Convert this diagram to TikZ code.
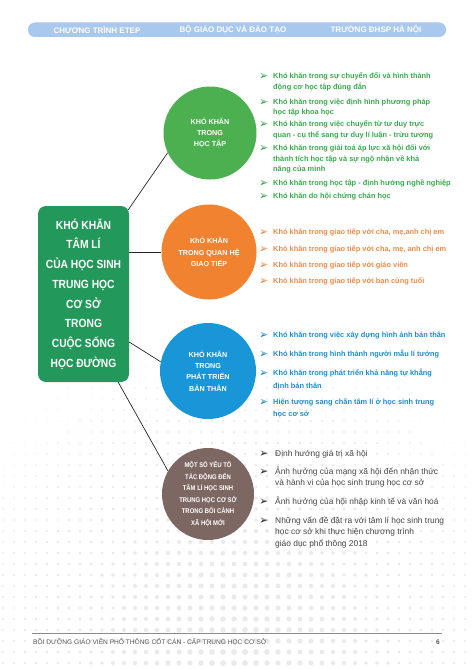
\documentclass[tikz,border=0pt]{standalone}
\usepackage{fontspec}
\setmainfont{Liberation Sans}
\newfontfamily\narrowfont[FakeStretch=0.87]{Liberation Sans}
\usetikzlibrary{calc}
\definecolor{hdr}{RGB}{168,200,238}
\definecolor{maing}{RGB}{34,152,90}
\definecolor{gc}{RGB}{76,176,80}
\definecolor{gt}{RGB}{58,168,78}
\definecolor{oc}{RGB}{240,130,48}
\definecolor{ot}{RGB}{232,140,72}
\definecolor{bc}{RGB}{25,150,215}
\definecolor{bt}{RGB}{30,140,200}
\definecolor{brc}{RGB}{125,103,98}
\definecolor{grt}{RGB}{70,70,70}
\definecolor{dotc}{RGB}{234,234,234}
\definecolor{foot}{RGB}{85,85,85}
\begin{document}
\begin{tikzpicture}[x=1pt,y=-1pt,
  circ/.style={circle,inner sep=0pt,text=white,align=center},
  ctext/.style={font=\bfseries\fontsize{7.2}{11.3}\selectfont},
  item/.style={anchor=base west,inner sep=0pt,font=\bfseries\fontsize{7.4}{9}\selectfont},
  gitem/.style={anchor=base west,inner sep=0pt,text=grt,font=\fontsize{8.4}{10}\selectfont},
  conn/.style={black!85,line width=0.7pt},
  bullet/.pic={\fill[#1!55] (-3.6,-2.7) -- (3.6,0) -- (-1.4,0) -- cycle;
               \fill[#1] (-3.6,2.7) -- (3.6,0) -- (-1.4,0) -- cycle;}]
\useasboundingbox (0,0) rectangle (474,669);
\fill[white] (0,0) rectangle (474,669);
% halftone background
\foreach \i in {0,...,43}{
  \foreach \j in {24,...,60}{
    \pgfmathsetmacro\xx{\i*11+3}
    \pgfmathsetmacro\yy{\j*11+3}
    \pgfmathsetmacro\dd{veclen(\xx-237,\yy-650)}
    \pgfmathsetmacro\rr{3.0-\dd/125}
    \ifdim\rr pt>0.3pt \fill[dotc] (\xx,\yy) circle[radius=\rr]; \fi
  }
}
% header
\fill[hdr,rounded corners=7pt] (28,22.5) rectangle (446,37);
\node[text=white,font=\bfseries\fontsize{8}{9}\selectfont] (h1) at (97,30) {CHƯƠNG TRÌNH ETEP};
\node[text=white,font=\bfseries\fontsize{8}{9}\selectfont] (h2) at (233,30) {BỘ GIÁO DỤC VÀ ĐÀO TẠO};
\node[text=white,font=\bfseries\fontsize{8}{9}\selectfont] (h3) at (376,30) {TRƯỜNG ĐHSP HÀ NỘI};
% footer
\draw[black!45,line width=0.8pt] (32,633) -- (442,633);
\node[anchor=base west,inner sep=0pt,text=foot,font=\fontsize{6.6}{8}\selectfont] (f1) at (33,644.5) {BỒI DƯỠNG GIÁO VIÊN PHỔ THÔNG CỐT CÁN - CẤP TRUNG HỌC CƠ SỞ};
\node[anchor=base,inner sep=0pt,text=foot,font=\bfseries\fontsize{6.6}{8}\selectfont] (f2) at (438,644.5) {6};
% main box
\node[fill=maing,rounded corners=8pt,minimum width=91pt,minimum height=176pt,inner sep=0pt,
      text=white,align=center,font=\narrowfont\bfseries\fontsize{11.8}{19.7}\selectfont] (main) at (83.5,294)
  {KHÓ KHĂN\\TÂM LÍ\\CỦA HỌC SINH\\TRUNG HỌC\\CƠ SỞ\\TRONG\\CUỘC SỐNG\\HỌC ĐƯỜNG};
% circles
\node[circ,ctext,fill=gc,minimum size=93pt] (c1) at (210,133) {KHÓ KHĂN\\TRONG\\HỌC TẬP};
\node[circ,ctext,fill=oc,minimum size=95pt] (c2) at (209,252) {KhÓ KHĂN\\TRONG QUAN HỆ\\GIAO TIẾP};
\node[circ,ctext,fill=bc,minimum size=96pt] (c3) at (208,371) {KHÓ KHĂN\\TRONG\\PHÁT TRIỂN\\BẢN THÂN};
\node[circ,fill=brc,minimum size=92pt,font=\narrowfont\bfseries\fontsize{6.8}{11.6}\selectfont] (c4) at (208,494)
  {MỘT SỐ YẾU TỐ\\TÁC ĐỘNG ĐẾN\\TÂM LÍ HỌC SINH\\TRUNG HỌC CƠ SỞ\\TRONG BỐI CẢNH\\XÃ HỘI MỚI};
% connectors
\draw[conn] ($(main.north east)+(-1,4)$) -- (c1.205);
\draw[conn] (main.east |- c2.west) -- (c2.west);
\draw[conn] ($(main.east)+(0,48)$) -- (c3.169);
\draw[conn] ($(main.south east)+(-11,0)$) -- (c4.150);
% green list
\foreach \yy/\txt [count=\i] in {
  78/{Khó khăn trong sự chuyển đổi và hình thành},
  89/{động cơ học tập đúng đắn},
  104/{Khó khăn trong việc định hình phương pháp},
  114/{học tập khoa học},
  126/{Khó khăn trong việc chuyển từ tư duy trực},
  137/{quan - cụ thể sang tư duy lí luận - trừu tượng},
  150/{Khó khăn trong giải toả áp lực xã hội đối với},
  161/{thành tích học tập và sự ngộ nhận về khả},
  171/{năng của mình},
  185/{Khó khăn trong học tập - định hướng nghề nghiệp},
  198/{Khó khăn do hội chứng chán học}}
  \node[item,text=gt] (g\i) at (273,\yy) {\txt};
\foreach \yy in {75.5,101.5,123.5,147.5,182.5,195.5} \pic at (264,\yy) {bullet=gt};
% orange list
\foreach \yy/\txt [count=\i] in {
  234/{Khó khăn trong giao tiếp với cha, mẹ,anh chị em},
  251/{Khó khăn trong giao tiếp với cha, mẹ, anh chị em},
  267/{Khó khăn trong giao tiếp với giáo viên},
  283/{Khó khăn trong giao tiếp với bạn cùng tuổi}}
  \node[item,text=ot] (o\i) at (273,\yy) {\txt};
\foreach \yy in {231.5,248.5,264.5,280.5} \pic at (264,\yy) {bullet=ot};
% blue list
\foreach \yy/\txt [count=\i] in {
  337/{Khó khăn trong việc xây dựng hình ảnh bản thân},
  356/{Khó khăn trong hình thành người mẫu lí tưởng},
  375/{Khó khăn trong phát triển khả năng tự khẳng},
  388/{định bản thân},
  404/{Hiện tượng sang chấn tâm lí ở học sinh trung},
  416/{học cơ sở}}
  \node[item,text=bt] (b\i) at (273,\yy) {\txt};
\foreach \yy in {334.5,353.5,372.5,401.5} \pic at (264,\yy) {bullet=bt};
% gray list
\foreach \yy/\txt [count=\i] in {
  456/{Định hướng giá trị xã hội},
  474/{Ảnh hưởng của mạng xã hội đến nhận thức},
  485.5/{và hành vi của học sinh trung học cơ sở},
  504/{Ảnh hưởng của hội nhập kinh tế và văn hoá},
  523/{Những vấn đề đặt ra với tâm lí học sinh trung},
  534.5/{học cơ sở khi thực hiện chương trình},
  546/{giáo dục phổ thông 2018}}
  \node[gitem] (k\i) at (275,\yy) {\txt};
\foreach \yy in {453,471,501,520} \pic at (264,\yy) {bullet=grt};
\end{tikzpicture}
\end{document}
